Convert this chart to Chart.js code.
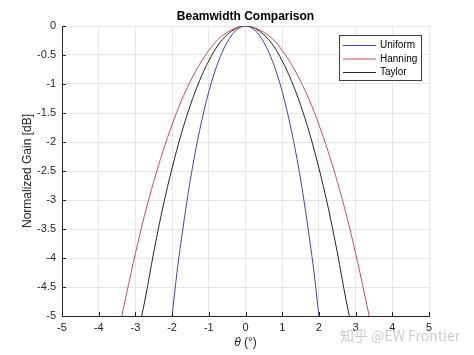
<!DOCTYPE html>
<html><head><meta charset="utf-8">
<script src="https://cdn.jsdelivr.net/npm/chart.js@4.4.0/dist/chart.umd.min.js"></script>
<style>
html,body{margin:0;padding:0;background:#fff;}
#wrap{position:relative;width:474px;height:355px;overflow:hidden;}
#wm{position:absolute;left:340px;top:325px;font:14px "Noto Sans CJK SC",sans-serif;color:#cdcdcd;white-space:nowrap;}
</style>
</head><body>
<div id="wrap"><canvas id="c" width="474" height="355"></canvas><div id="wm">知乎 @EW Frontier</div></div>
<script>
const chartTitle = "Beamwidth Comparison";
const xAxisTitle = "θ (°)";
const yAxisTitle = "Normalized Gain [dB]";
const seriesNames = ["Uniform", "Hanning", "Taylor"];
const xTicks = [-5, -4, -3, -2, -1, 0, 1, 2, 3, 4, 5];
const yTicks = [0, -0.5, -1, -1.5, -2, -2.5, -3, -3.5, -4, -4.5, -5];

const uniformTheta = [-2.0, -1.875, -1.75, -1.5, -1.25, -1.0, -0.75, -0.5, -0.25, 0, 0.25, 0.5, 0.75, 1.0, 1.25, 1.5, 1.75, 1.875, 2.0];
const uniformGain  = [-5.0, -4.29, -3.69, -2.64, -1.80, -1.13, -0.63, -0.28, -0.07, 0, -0.07, -0.28, -0.63, -1.13, -1.80, -2.64, -3.69, -4.29, -5.0];

const hanningTheta = [-3.37, -3.25, -3.0, -2.75, -2.5, -2.25, -2.0, -1.75, -1.5, -1.25, -1.0, -0.75, -0.5, -0.25, 0, 0.25, 0.5, 0.75, 1.0, 1.25, 1.5, 1.75, 2.0, 2.25, 2.5, 2.75, 3.0, 3.25, 3.37];
const hanningGain  = [-5.0, -4.64, -3.92, -3.26, -2.68, -2.16, -1.70, -1.29, -0.95, -0.66, -0.42, -0.23, -0.11, -0.03, 0, -0.03, -0.11, -0.23, -0.42, -0.66, -0.95, -1.29, -1.70, -2.16, -2.68, -3.26, -3.92, -4.64, -5.0];

const taylorTheta = [-2.83, -2.75, -2.5, -2.25, -2.0, -1.75, -1.5, -1.25, -1.0, -0.75, -0.5, -0.25, 0, 0.25, 0.5, 0.75, 1.0, 1.25, 1.5, 1.75, 2.0, 2.25, 2.5, 2.75, 2.83];
const taylorGain  = [-5.0, -4.76, -3.90, -3.12, -2.45, -1.86, -1.36, -0.94, -0.60, -0.33, -0.15, -0.04, 0, -0.04, -0.15, -0.33, -0.60, -0.94, -1.36, -1.86, -2.45, -3.12, -3.90, -4.76, -5.0];

const seriesColors = ["#4444b0", "#c85050", "#262626"];

function pts(xs, ys) { return xs.map((x, i) => ({ x: x, y: ys[i] })); }

const FONT = '"Liberation Sans", Arial, sans-serif';
const AX = '#262626';

const decor = {
  id: 'decor',
  afterDraw(chart) {
    const ctx = chart.ctx, a = chart.chartArea;
    const xs = chart.scales.x, ys = chart.scales.y;
    ctx.save();
    // inward ticks
    ctx.strokeStyle = AX; ctx.lineWidth = 1;
    ctx.beginPath();
    xTicks.forEach(v => { const p = Math.round(xs.getPixelForValue(v)) + 0.5; ctx.moveTo(p, a.bottom); ctx.lineTo(p, a.bottom - 4); });
    yTicks.forEach(v => { const p = Math.round(ys.getPixelForValue(v)) + 0.5; ctx.moveTo(a.left, p); ctx.lineTo(a.left + 4, p); });
    ctx.stroke();
    // title
    ctx.fillStyle = '#000';
    ctx.font = 'bold 12px ' + FONT;
    ctx.textAlign = 'center'; ctx.textBaseline = 'middle';
    ctx.fillText(chartTitle, (a.left + a.right) / 2, 16.5);
    // axis titles
    ctx.fillStyle = AX;
    ctx.font = '12px ' + FONT;
    ctx.save();
    ctx.translate(28, (a.top + a.bottom) / 2);
    ctx.rotate(-Math.PI / 2);
    ctx.fillText(yAxisTitle, 0, 0);
    ctx.restore();
    ctx.font = 'italic 12px ' + FONT;
    const th = 'θ', rest = ' (°)';
    ctx.textAlign = 'left';
    const w1 = ctx.measureText(th).width;
    ctx.font = '12px ' + FONT;
    const w2 = ctx.measureText(rest).width;
    const sx = (a.left + a.right) / 2 - (w1 + w2) / 2;
    ctx.font = 'italic 12px ' + FONT;
    ctx.fillText(th, sx, 343);
    ctx.font = '12px ' + FONT;
    ctx.fillText(rest, sx + w1, 343);
    // legend
    const bx = 339.5, by = 35.5, bw = 82, bh = 45;
    ctx.fillStyle = '#fff'; ctx.fillRect(bx, by, bw, bh);
    ctx.strokeStyle = '#404040'; ctx.lineWidth = 1; ctx.strokeRect(bx, by, bw, bh);
    const rows = [45, 58.5, 72];
    ctx.font = '10px ' + FONT; ctx.textBaseline = 'middle'; ctx.textAlign = 'left';
    seriesNames.forEach((n, i) => {
      ctx.strokeStyle = seriesColors[i];
      ctx.beginPath(); ctx.moveTo(343, rows[i] + 0.5); ctx.lineTo(376, rows[i] + 0.5); ctx.stroke();
      ctx.fillStyle = '#000'; ctx.fillText(n, 380, rows[i] + 0.5);
    });
    ctx.restore();
  }
};

new Chart(document.getElementById('c'), {
  type: 'line',
  data: {
    datasets: [
      { label: seriesNames[0], data: pts(uniformTheta, uniformGain), borderColor: seriesColors[0] },
      { label: seriesNames[1], data: pts(hanningTheta, hanningGain), borderColor: seriesColors[1] },
      { label: seriesNames[2], data: pts(taylorTheta, taylorGain), borderColor: seriesColors[2] }
    ]
  },
  options: {
    responsive: false, animation: false, devicePixelRatio: 1,
    layout: { padding: { top: 26, right: 45, left: 0, bottom: 0 } },
    elements: { point: { radius: 0 }, line: { borderWidth: 1, cubicInterpolationMode: 'monotone', fill: false } },
    plugins: { legend: { display: false }, title: { display: false }, tooltip: { enabled: false } },
    scales: {
      x: {
        type: 'linear', min: -5, max: 5,
        afterBuildTicks: s => { s.ticks = xTicks.map(v => ({ value: v })); },
        afterFit: s => { s.height = 39; },
        grid: { color: '#e6e6e6', drawTicks: false },
        border: { display: true, color: AX },
        ticks: { color: AX, font: { family: FONT, size: 11 }, padding: 5, maxRotation: 0, callback: v => String(v) }
      },
      y: {
        type: 'linear', min: -5, max: 0,
        afterBuildTicks: s => { s.ticks = yTicks.map(v => ({ value: v })); },
        afterFit: s => { s.width = 62; },
        grid: { color: '#e6e6e6', drawTicks: false },
        border: { display: true, color: AX },
        ticks: { color: AX, font: { family: FONT, size: 11 }, padding: 6, callback: v => String(v) }
      }
    }
  },
  plugins: [decor]
});
</script>
</body></html>
